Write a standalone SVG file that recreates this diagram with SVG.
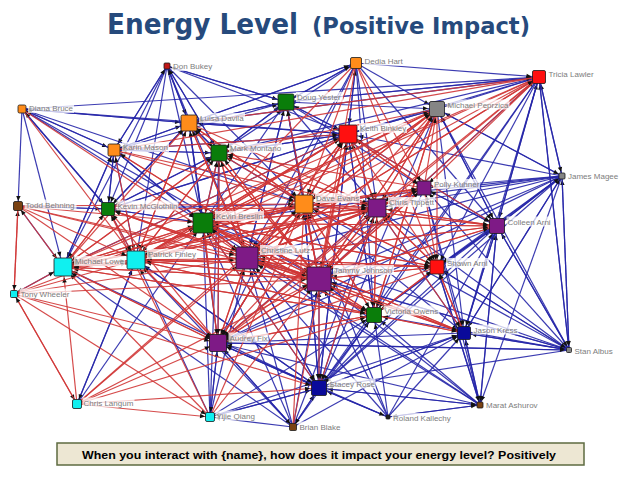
<svg xmlns="http://www.w3.org/2000/svg" width="638" height="479" viewBox="0 0 638 479">
<style>
.b{stroke:#2626a8;stroke-opacity:.9}
.r{stroke:#d03636;stroke-opacity:.9}
.n{stroke:#1a1a1a;stroke-width:.8}
.lb{fill:#fff;fill-opacity:.75}
.lt{font-family:"Liberation Sans",Arial,sans-serif;font-size:8px;fill:#7d7d7d}
.or{fill:#ff8c1a}.gr{fill:#0a7d0a}.rd{fill:#ff1010}.gy{fill:#858585}.pu{fill:#7e1a86}.cy{fill:#10f0f0}.nv{fill:#0a0a9a}.br{fill:#7a4212}.dk{fill:#202020}.dr{fill:#c01818}
</style>
<defs>
<marker id="a4" markerUnits="userSpaceOnUse" viewBox="-20 -3 21 6" markerWidth="21" markerHeight="6" refX="0" refY="0" orient="auto"><path d="M-9,-2.2L-4,0L-9,2.2z" fill="#111"/></marker>
<marker id="a5" markerUnits="userSpaceOnUse" viewBox="-20 -3 21 6" markerWidth="21" markerHeight="6" refX="0" refY="0" orient="auto"><path d="M-10,-2.2L-5,0L-10,2.2z" fill="#111"/></marker>
<marker id="a7" markerUnits="userSpaceOnUse" viewBox="-20 -3 21 6" markerWidth="21" markerHeight="6" refX="0" refY="0" orient="auto"><path d="M-12.5,-2.2L-7.5,0L-12.5,2.2z" fill="#111"/></marker>
<marker id="a9" markerUnits="userSpaceOnUse" viewBox="-20 -3 21 6" markerWidth="21" markerHeight="6" refX="0" refY="0" orient="auto"><path d="M-14,-2.2L-9,0L-14,2.2z" fill="#111"/></marker>
<marker id="a11" markerUnits="userSpaceOnUse" viewBox="-20 -3 21 6" markerWidth="21" markerHeight="6" refX="0" refY="0" orient="auto"><path d="M-15.5,-2.2L-10.5,0L-15.5,2.2z" fill="#111"/></marker>
<marker id="a13" markerUnits="userSpaceOnUse" viewBox="-20 -3 21 6" markerWidth="21" markerHeight="6" refX="0" refY="0" orient="auto"><path d="M-18,-2.2L-13,0L-18,2.2z" fill="#111"/></marker>
</defs>
<rect width="638" height="479" fill="#fff"/>
<text x="107" y="34" font-family="DejaVu Sans,Verdana,sans-serif" font-weight="bold" font-size="28" fill="#264a7c" textLength="191" lengthAdjust="spacingAndGlyphs">Energy Level</text>
<text x="312" y="34" font-family="DejaVu Sans,Verdana,sans-serif" font-weight="bold" font-size="23" fill="#264a7c" textLength="218" lengthAdjust="spacingAndGlyphs">(Positive Impact)</text>
<g id="connectors" fill="none" stroke-width="1.2">
<g class="b" marker-end="url(#a13)">
<path d="M356 63L247 258"/><path d="M562 176L247 258"/><path d="M569 350L247 258"/><path d="M210 417L247 258"/><path d="M293 427L247 258"/><path d="M388 417L247 258"/><path d="M480 405L247 258"/><path d="M319 388L247 258"/><path d="M114 150L247 258"/><path d="M286 102L247 258"/><path d="M167 66L247 258"/>
<path d="M539 77L319 279"/><path d="M22 109L319 279"/><path d="M562 176L319 279"/><path d="M569 350L319 279"/><path d="M293 427L319 279"/><path d="M388 417L319 279"/><path d="M480 405L319 279"/><path d="M319 388L319 279"/><path d="M286 102L319 279"/>
</g>
<g class="b" marker-end="url(#a11)">
<path d="M167 66L203 223"/><path d="M22 109L203 223"/><path d="M562 176L203 223"/><path d="M569 350L203 223"/><path d="M77 404L203 223"/><path d="M210 417L203 223"/><path d="M293 427L203 223"/><path d="M480 405L203 223"/><path d="M319 388L203 223"/><path d="M108 209L203 223"/><path d="M114 150L203 223"/><path d="M219 153L203 223"/><path d="M189 123L203 223"/>
<path d="M167 66L304 204"/><path d="M22 109L304 204"/><path d="M562 176L304 204"/><path d="M569 350L304 204"/><path d="M388 417L304 204"/><path d="M319 388L304 204"/><path d="M108 209L304 204"/><path d="M286 102L304 204"/>
<path d="M167 66L348 134"/><path d="M356 63L348 134"/><path d="M539 77L348 134"/><path d="M562 176L348 134"/><path d="M437 109L348 134"/><path d="M497 226L348 134"/><path d="M374 315L348 134"/><path d="M319 388L348 134"/><path d="M108 209L348 134"/><path d="M219 153L348 134"/><path d="M189 123L348 134"/><path d="M286 102L348 134"/>
<path d="M356 63L377 208"/><path d="M562 176L377 208"/><path d="M569 350L377 208"/><path d="M293 427L377 208"/><path d="M218 343L377 208"/><path d="M319 388L377 208"/><path d="M464 333L377 208"/><path d="M286 102L377 208"/>
<path d="M167 66L63 267"/><path d="M22 109L63 267"/><path d="M18 206L63 267"/><path d="M293 427L63 267"/><path d="M348 134L63 267"/><path d="M114 150L63 267"/>
<path d="M167 66L136 260"/><path d="M77 404L136 260"/><path d="M210 417L136 260"/><path d="M293 427L136 260"/><path d="M319 388L136 260"/><path d="M114 150L136 260"/>
</g>
<g class="b" marker-end="url(#a9)">
<path d="M167 66L286 102"/><path d="M356 63L286 102"/><path d="M539 77L286 102"/><path d="M203 223L286 102"/><path d="M247 258L286 102"/><path d="M304 204L286 102"/><path d="M348 134L286 102"/><path d="M114 150L286 102"/><path d="M219 153L286 102"/><path d="M189 123L286 102"/>
<path d="M356 63L189 123"/><path d="M22 109L189 123"/><path d="M203 223L189 123"/><path d="M348 134L189 123"/><path d="M218 343L189 123"/><path d="M108 209L189 123"/><path d="M114 150L189 123"/><path d="M219 153L189 123"/><path d="M286 102L189 123"/><path d="M167 66L189 123"/>
<path d="M356 63L437 109"/><path d="M539 77L437 109"/><path d="M562 176L437 109"/><path d="M569 350L437 109"/><path d="M497 226L437 109"/><path d="M348 134L437 109"/><path d="M286 102L437 109"/>
<path d="M167 66L219 153"/><path d="M356 63L219 153"/><path d="M539 77L219 153"/><path d="M304 204L219 153"/><path d="M348 134L219 153"/><path d="M218 343L219 153"/><path d="M108 209L219 153"/><path d="M114 150L219 153"/><path d="M189 123L219 153"/><path d="M286 102L219 153"/><path d="M210 417L219 153"/>
<path d="M356 63L497 226"/><path d="M539 77L497 226"/><path d="M562 176L497 226"/><path d="M569 350L497 226"/><path d="M388 417L497 226"/><path d="M480 405L497 226"/><path d="M424 188L497 226"/><path d="M437 267L497 226"/><path d="M464 333L497 226"/><path d="M437 109L497 226"/>
<path d="M356 63L374 315"/><path d="M539 77L374 315"/><path d="M562 176L374 315"/><path d="M569 350L374 315"/><path d="M210 417L374 315"/><path d="M293 427L374 315"/><path d="M388 417L374 315"/><path d="M480 405L374 315"/><path d="M348 134L374 315"/><path d="M424 188L374 315"/><path d="M497 226L374 315"/><path d="M319 388L374 315"/>
<path d="M539 77L319 388"/><path d="M437 109L319 388"/><path d="M562 176L319 388"/><path d="M569 350L319 388"/><path d="M210 417L319 388"/><path d="M293 427L319 388"/><path d="M388 417L319 388"/><path d="M480 405L319 388"/><path d="M304 204L319 388"/><path d="M348 134L319 388"/><path d="M497 226L319 388"/><path d="M437 267L319 388"/><path d="M374 315L319 388"/><path d="M464 333L319 388"/><path d="M218 343L319 388"/><path d="M247 258L319 388"/><path d="M63 267L319 388"/><path d="M136 260L319 388"/>
<path d="M356 63L218 343"/><path d="M562 176L218 343"/><path d="M569 350L218 343"/><path d="M210 417L218 343"/><path d="M293 427L218 343"/><path d="M388 417L218 343"/><path d="M480 405L218 343"/><path d="M348 134L218 343"/><path d="M497 226L218 343"/><path d="M464 333L218 343"/><path d="M319 388L218 343"/>
</g>
<g class="b" marker-end="url(#a7)">
<path d="M189 123L356 63"/><path d="M286 102L356 63"/><path d="M348 134L356 63"/>
<path d="M22 109L114 150"/><path d="M348 134L114 150"/><path d="M108 209L114 150"/><path d="M219 153L114 150"/><path d="M63 267L114 150"/><path d="M189 123L114 150"/><path d="M167 66L114 150"/>
<path d="M22 109L539 77"/><path d="M356 63L539 77"/><path d="M562 176L539 77"/><path d="M569 350L539 77"/><path d="M189 123L539 77"/><path d="M286 102L539 77"/><path d="M497 226L539 77"/>
<path d="M167 66L108 209"/><path d="M22 109L108 209"/><path d="M18 206L108 209"/><path d="M203 223L108 209"/><path d="M348 134L108 209"/><path d="M114 150L108 209"/><path d="M219 153L108 209"/><path d="M189 123L108 209"/><path d="M136 260L108 209"/>
<path d="M539 77L464 333"/><path d="M437 109L464 333"/><path d="M562 176L464 333"/><path d="M569 350L464 333"/><path d="M210 417L464 333"/><path d="M293 427L464 333"/><path d="M388 417L464 333"/><path d="M480 405L464 333"/><path d="M497 226L464 333"/><path d="M319 388L464 333"/><path d="M304 204L464 333"/><path d="M424 188L464 333"/>
<path d="M286 102L424 188"/><path d="M562 176L424 188"/><path d="M569 350L424 188"/><path d="M480 405L424 188"/><path d="M497 226L424 188"/>
<path d="M539 77L437 267"/><path d="M562 176L437 267"/><path d="M569 350L437 267"/><path d="M480 405L437 267"/><path d="M497 226L437 267"/>
</g>
<g class="b" marker-end="url(#a5)">
<path d="M348 134L22 109"/><path d="M189 123L22 109"/><path d="M108 209L22 109"/><path d="M114 150L22 109"/>
<path d="M22 109L18 206"/><path d="M108 209L18 206"/>
<path d="M136 260L77 404"/>
<path d="M218 343L210 417"/><path d="M319 388L210 417"/><path d="M293 427L210 417"/>
</g>
<g class="b" marker-end="url(#a4)">
<path d="M114 150L167 66"/><path d="M219 153L167 66"/><path d="M189 123L167 66"/><path d="M286 102L167 66"/>
<path d="M539 77L562 176"/><path d="M437 109L562 176"/><path d="M497 226L562 176"/><path d="M569 350L562 176"/><path d="M464 333L562 176"/>
<path d="M539 77L569 350"/><path d="M562 176L569 350"/><path d="M497 226L569 350"/><path d="M437 267L569 350"/><path d="M464 333L569 350"/><path d="M218 343L569 350"/>
<path d="M319 388L388 417"/><path d="M480 405L388 417"/>
<path d="M562 176L480 405"/><path d="M497 226L480 405"/><path d="M437 267L480 405"/><path d="M464 333L480 405"/><path d="M388 417L480 405"/><path d="M319 388L480 405"/>
<path d="M63 267L14 294"/>
<path d="M218 343L293 427"/><path d="M319 388L293 427"/>
</g>
<g class="r" marker-end="url(#a13)">
<path d="M539 77L247 258"/><path d="M22 109L247 258"/><path d="M437 109L247 258"/><path d="M18 206L247 258"/><path d="M14 294L247 258"/><path d="M77 404L247 258"/><path d="M203 223L247 258"/><path d="M319 279L247 258"/><path d="M304 204L247 258"/><path d="M348 134L247 258"/><path d="M377 208L247 258"/><path d="M424 188L247 258"/><path d="M497 226L247 258"/><path d="M437 267L247 258"/><path d="M374 315L247 258"/><path d="M464 333L247 258"/><path d="M218 343L247 258"/><path d="M63 267L247 258"/><path d="M136 260L247 258"/><path d="M108 209L247 258"/><path d="M219 153L247 258"/><path d="M189 123L247 258"/>
<path d="M356 63L319 279"/><path d="M437 109L319 279"/><path d="M18 206L319 279"/><path d="M14 294L319 279"/><path d="M77 404L319 279"/><path d="M210 417L319 279"/><path d="M203 223L319 279"/><path d="M247 258L319 279"/><path d="M304 204L319 279"/><path d="M348 134L319 279"/><path d="M377 208L319 279"/><path d="M424 188L319 279"/><path d="M497 226L319 279"/><path d="M437 267L319 279"/><path d="M374 315L319 279"/><path d="M464 333L319 279"/><path d="M218 343L319 279"/><path d="M63 267L319 279"/><path d="M136 260L319 279"/><path d="M108 209L319 279"/><path d="M114 150L319 279"/><path d="M219 153L319 279"/><path d="M189 123L319 279"/>
</g>
<g class="r" marker-end="url(#a11)">
<path d="M356 63L203 223"/><path d="M539 77L203 223"/><path d="M437 109L203 223"/><path d="M18 206L203 223"/><path d="M14 294L203 223"/><path d="M247 258L203 223"/><path d="M319 279L203 223"/><path d="M304 204L203 223"/><path d="M348 134L203 223"/><path d="M377 208L203 223"/><path d="M424 188L203 223"/><path d="M497 226L203 223"/><path d="M437 267L203 223"/><path d="M374 315L203 223"/><path d="M464 333L203 223"/><path d="M218 343L203 223"/><path d="M63 267L203 223"/><path d="M136 260L203 223"/>
<path d="M356 63L304 204"/><path d="M539 77L304 204"/><path d="M437 109L304 204"/><path d="M18 206L304 204"/><path d="M77 404L304 204"/><path d="M210 417L304 204"/><path d="M293 427L304 204"/><path d="M203 223L304 204"/><path d="M247 258L304 204"/><path d="M319 279L304 204"/><path d="M348 134L304 204"/><path d="M377 208L304 204"/><path d="M424 188L304 204"/><path d="M497 226L304 204"/><path d="M437 267L304 204"/><path d="M374 315L304 204"/><path d="M218 343L304 204"/><path d="M63 267L304 204"/><path d="M136 260L304 204"/><path d="M114 150L304 204"/><path d="M219 153L304 204"/><path d="M189 123L304 204"/>
<path d="M293 427L348 134"/><path d="M203 223L348 134"/><path d="M247 258L348 134"/><path d="M319 279L348 134"/><path d="M304 204L348 134"/><path d="M377 208L348 134"/><path d="M424 188L348 134"/><path d="M218 343L348 134"/><path d="M63 267L348 134"/><path d="M136 260L348 134"/><path d="M114 150L348 134"/>
<path d="M539 77L377 208"/><path d="M437 109L377 208"/><path d="M203 223L377 208"/><path d="M247 258L377 208"/><path d="M319 279L377 208"/><path d="M304 204L377 208"/><path d="M348 134L377 208"/><path d="M424 188L377 208"/><path d="M497 226L377 208"/><path d="M437 267L377 208"/><path d="M374 315L377 208"/><path d="M63 267L377 208"/><path d="M136 260L377 208"/><path d="M108 209L377 208"/><path d="M114 150L377 208"/><path d="M219 153L377 208"/><path d="M189 123L377 208"/>
<path d="M437 109L63 267"/><path d="M14 294L63 267"/><path d="M77 404L63 267"/><path d="M210 417L63 267"/><path d="M203 223L63 267"/><path d="M247 258L63 267"/><path d="M319 279L63 267"/><path d="M304 204L63 267"/><path d="M377 208L63 267"/><path d="M374 315L63 267"/><path d="M218 343L63 267"/><path d="M136 260L63 267"/><path d="M108 209L63 267"/><path d="M219 153L63 267"/>
<path d="M539 77L136 260"/><path d="M22 109L136 260"/><path d="M437 109L136 260"/><path d="M18 206L136 260"/><path d="M14 294L136 260"/><path d="M203 223L136 260"/><path d="M247 258L136 260"/><path d="M319 279L136 260"/><path d="M304 204L136 260"/><path d="M348 134L136 260"/><path d="M377 208L136 260"/><path d="M424 188L136 260"/><path d="M437 267L136 260"/><path d="M374 315L136 260"/><path d="M218 343L136 260"/><path d="M63 267L136 260"/><path d="M108 209L136 260"/><path d="M219 153L136 260"/><path d="M189 123L136 260"/>
</g>
<g class="r" marker-end="url(#a9)">
<path d="M319 279L286 102"/>
<path d="M539 77L189 123"/><path d="M247 258L189 123"/><path d="M319 279L189 123"/><path d="M304 204L189 123"/><path d="M63 267L189 123"/><path d="M136 260L189 123"/>
<path d="M203 223L437 109"/><path d="M247 258L437 109"/><path d="M319 279L437 109"/><path d="M377 208L437 109"/><path d="M424 188L437 109"/><path d="M374 315L437 109"/><path d="M304 204L437 109"/>
<path d="M437 109L219 153"/><path d="M203 223L219 153"/><path d="M247 258L219 153"/><path d="M319 279L219 153"/><path d="M377 208L219 153"/><path d="M424 188L219 153"/><path d="M136 260L219 153"/><path d="M63 267L219 153"/>
<path d="M203 223L497 226"/><path d="M247 258L497 226"/><path d="M319 279L497 226"/><path d="M304 204L497 226"/><path d="M348 134L497 226"/><path d="M377 208L497 226"/>
<path d="M437 109L374 315"/><path d="M77 404L374 315"/><path d="M203 223L374 315"/><path d="M247 258L374 315"/><path d="M319 279L374 315"/><path d="M304 204L374 315"/><path d="M377 208L374 315"/><path d="M437 267L374 315"/><path d="M464 333L374 315"/><path d="M218 343L374 315"/><path d="M63 267L374 315"/><path d="M136 260L374 315"/>
<path d="M14 294L319 388"/><path d="M77 404L319 388"/><path d="M203 223L319 388"/><path d="M319 279L319 388"/><path d="M377 208L319 388"/>
<path d="M539 77L218 343"/><path d="M437 109L218 343"/><path d="M18 206L218 343"/><path d="M14 294L218 343"/><path d="M77 404L218 343"/><path d="M203 223L218 343"/><path d="M247 258L218 343"/><path d="M319 279L218 343"/><path d="M304 204L218 343"/><path d="M377 208L218 343"/><path d="M424 188L218 343"/><path d="M437 267L218 343"/><path d="M374 315L218 343"/><path d="M63 267L218 343"/><path d="M136 260L218 343"/><path d="M219 153L218 343"/>
</g>
<g class="r" marker-end="url(#a7)">
<path d="M539 77L114 150"/><path d="M319 279L114 150"/><path d="M136 260L114 150"/>
<path d="M247 258L539 77"/><path d="M319 279L539 77"/>
<path d="M247 258L108 209"/><path d="M319 279L108 209"/><path d="M210 417L108 209"/><path d="M63 267L108 209"/><path d="M218 343L108 209"/>
<path d="M203 223L464 333"/><path d="M247 258L464 333"/><path d="M319 279L464 333"/><path d="M377 208L464 333"/><path d="M437 267L464 333"/><path d="M374 315L464 333"/>
<path d="M356 63L424 188"/><path d="M539 77L424 188"/><path d="M203 223L424 188"/><path d="M247 258L424 188"/><path d="M319 279L424 188"/><path d="M304 204L424 188"/><path d="M348 134L424 188"/><path d="M377 208L424 188"/>
<path d="M356 63L437 267"/><path d="M437 109L437 267"/><path d="M203 223L437 267"/><path d="M247 258L437 267"/><path d="M319 279L437 267"/><path d="M304 204L437 267"/><path d="M348 134L437 267"/><path d="M377 208L437 267"/><path d="M424 188L437 267"/><path d="M374 315L437 267"/><path d="M464 333L437 267"/><path d="M136 260L437 267"/>
</g>
<g class="r" marker-end="url(#a5)">
<path d="M63 267L18 206"/><path d="M14 294L18 206"/>
<path d="M14 294L77 404"/>
<path d="M14 294L210 417"/><path d="M77 404L210 417"/>
</g>
<g class="r" marker-end="url(#a4)">
<path d="M18 206L14 294"/><path d="M77 404L14 294"/>
</g>
</g>
<g id="n-don-bukey"><rect class="n dr" x="164" y="63" width="6" height="6" rx="1"/><rect class="lb" x="172" y="61" width="41" height="10"/><text class="lt" x="173" y="69">Don Bukey</text></g>
<g id="n-dedia-hart"><rect class="n or" x="350.5" y="57.5" width="11" height="11" rx="1.5"/><rect class="lb" x="363.5" y="55.5" width="40" height="10"/><text class="lt" x="364.5" y="63.5">Dedia Hart</text></g>
<g id="n-tricia-lawler"><rect class="n rd" x="532.5" y="70.5" width="13" height="13" rx="1.5"/><rect class="lb" x="547.5" y="68.5" width="47" height="10"/><text class="lt" x="548.5" y="76.5">Tricia Lawler</text></g>
<g id="n-diana-bruce"><rect class="n or" x="18" y="105" width="8" height="8" rx="1.5"/><rect class="lb" x="28" y="103" width="46" height="10"/><text class="lt" x="29" y="111">Diana Bruce</text></g>
<g id="n-doug-yester"><rect class="n gr" x="278" y="94" width="16" height="16" rx="1.5"/><rect class="lb" x="296" y="92" width="47" height="10"/><text class="lt" x="297" y="100">Doug Yester</text></g>
<g id="n-luisa-davila"><rect class="n or" x="181" y="115" width="16" height="16" rx="1.5"/><rect class="lb" x="199" y="113" width="46" height="10"/><text class="lt" x="200" y="121">Luisa Davila</text></g>
<g id="n-michael-peprzica"><rect class="n gy" x="429.5" y="101.5" width="15" height="15" rx="1.5"/><rect class="lb" x="446.5" y="99.5" width="63" height="10"/><text class="lt" x="447.5" y="107.5">Michael Peprzica</text></g>
<g id="n-keith-binkley"><rect class="n rd" x="339" y="125" width="18" height="18" rx="1.5"/><rect class="lb" x="359" y="123" width="48" height="10"/><text class="lt" x="360" y="131">Keith Binkley</text></g>
<g id="n-karin-mason"><rect class="n or" x="108" y="144" width="12" height="12" rx="1.5"/><rect class="lb" x="122" y="142" width="47" height="10"/><text class="lt" x="123" y="150">Karin Mason</text></g>
<g id="n-mark-montano"><rect class="n gr" x="211" y="145" width="16" height="16" rx="1.5"/><rect class="lb" x="229" y="143" width="53" height="10"/><text class="lt" x="230" y="151">Mark Montano</text></g>
<g id="n-james-magee"><rect class="n gy" x="559" y="173" width="6" height="6" rx="1"/><rect class="lb" x="567" y="171" width="52" height="10"/><text class="lt" x="568" y="179">James Magee</text></g>
<g id="n-todd-behning"><rect class="n br" x="13.5" y="201.5" width="9" height="9" rx="1.5"/><rect class="lb" x="24.5" y="199.5" width="52" height="10"/><text class="lt" x="25.5" y="207.5">Todd Behning</text></g>
<g id="n-kevin-mcglothlin"><rect class="n gr" x="101.5" y="202.5" width="13" height="13" rx="1.5"/><rect class="lb" x="116.5" y="200.5" width="62" height="10"/><text class="lt" x="117.5" y="208.5">Kevin McGlothlin</text></g>
<g id="n-kevin-breslin"><rect class="n gr" x="193" y="213" width="20" height="20" rx="1.5"/><rect class="lb" x="215" y="211" width="49" height="10"/><text class="lt" x="216" y="219">Kevin Breslin</text></g>
<g id="n-dave-evans"><rect class="n or" x="295" y="195" width="18" height="18" rx="1.5"/><rect class="lb" x="315" y="193" width="45" height="10"/><text class="lt" x="316" y="201">Dave Evans</text></g>
<g id="n-chris-tippett"><rect class="n pu" x="368" y="199" width="18" height="18" rx="1.5"/><rect class="lb" x="388" y="197" width="47" height="10"/><text class="lt" x="389" y="205">Chris Tippett</text></g>
<g id="n-polly-kuhner"><rect class="n pu" x="417" y="181" width="14" height="14" rx="1.5"/><rect class="lb" x="433" y="179" width="47" height="10"/><text class="lt" x="434" y="187">Polly Kuhner</text></g>
<g id="n-colleen-arni"><rect class="n pu" x="489.5" y="218.5" width="15" height="15" rx="1.5"/><rect class="lb" x="506.5" y="216.5" width="46" height="10"/><text class="lt" x="507.5" y="224.5">Colleen Arni</text></g>
<g id="n-michael-lowe"><rect class="n cy" x="54" y="258" width="18" height="18" rx="1.5"/><rect class="lb" x="74" y="256" width="51" height="10"/><text class="lt" x="75" y="264">Michael Lowe</text></g>
<g id="n-patrick-finley"><rect class="n cy" x="127" y="251" width="18" height="18" rx="1.5"/><rect class="lb" x="147" y="249" width="50" height="10"/><text class="lt" x="148" y="257">Patrick Finley</text></g>
<g id="n-christine-lutz"><rect class="n pu" x="236" y="247" width="22" height="22" rx="1.5"/><rect class="lb" x="260" y="245" width="51" height="10"/><text class="lt" x="261" y="253">Christine Lutz</text></g>
<g id="n-tammy-johnson"><rect class="n pu" x="307" y="267" width="24" height="24" rx="1.5"/><rect class="lb" x="333" y="265" width="61" height="10"/><text class="lt" x="334" y="273">Tammy Johnson</text></g>
<g id="n-shawn-arni"><rect class="n rd" x="430" y="260" width="14" height="14" rx="1.5"/><rect class="lb" x="446" y="258" width="43" height="10"/><text class="lt" x="447" y="266">Shawn Arni</text></g>
<g id="n-tony-wheeler"><rect class="n cy" x="10.5" y="290.5" width="7" height="7" rx="1"/><rect class="lb" x="19.5" y="288.5" width="52" height="10"/><text class="lt" x="20.5" y="296.5">Tony Wheeler</text></g>
<g id="n-victoria-owens"><rect class="n gr" x="366.5" y="307.5" width="15" height="15" rx="1.5"/><rect class="lb" x="383.5" y="305.5" width="56" height="10"/><text class="lt" x="384.5" y="313.5">Victoria Owens</text></g>
<g id="n-jason-kress"><rect class="n nv" x="457.5" y="326.5" width="13" height="13" rx="1.5"/><rect class="lb" x="472.5" y="324.5" width="46" height="10"/><text class="lt" x="473.5" y="332.5">Jason Kress</text></g>
<g id="n-stan-albus"><rect class="n gy" x="566.5" y="347.5" width="5" height="5" rx="1"/><rect class="lb" x="573.5" y="345.5" width="41" height="10"/><text class="lt" x="574.5" y="353.5">Stan Albus</text></g>
<g id="n-audrey-fix"><rect class="n pu" x="209.5" y="334.5" width="17" height="17" rx="1.5"/><rect class="lb" x="228.5" y="332.5" width="40" height="10"/><text class="lt" x="229.5" y="340.5">Audrey Fix</text></g>
<g id="n-stacey-rose"><rect class="n nv" x="311.5" y="380.5" width="15" height="15" rx="1.5"/><rect class="lb" x="328.5" y="378.5" width="47" height="10"/><text class="lt" x="329.5" y="386.5">Stacey Rose</text></g>
<g id="n-marat-ashurov"><rect class="n br" x="477" y="402" width="6" height="6" rx="1"/><rect class="lb" x="485" y="400" width="54" height="10"/><text class="lt" x="486" y="408">Marat Ashurov</text></g>
<g id="n-roland-kallechy"><rect class="n dk" x="386" y="415" width="4" height="4" rx=".8"/><rect class="lb" x="392" y="413" width="60" height="10"/><text class="lt" x="393" y="421">Roland Kallechy</text></g>
<g id="n-chris-langum"><rect class="n cy" x="72.5" y="399.5" width="9" height="9" rx="1.5"/><rect class="lb" x="82.5" y="397.5" width="52" height="10"/><text class="lt" x="83.5" y="405.5">Chris Langum</text></g>
<g id="n-yijie-qiang"><rect class="n cy" x="205.5" y="412.5" width="9" height="9" rx="1.5"/><rect class="lb" x="215.5" y="410.5" width="41" height="10"/><text class="lt" x="216.5" y="418.5">Yijie Qiang</text></g>
<g id="n-brian-blake"><rect class="n br" x="289.5" y="423.5" width="7" height="7" rx="1"/><rect class="lb" x="298.5" y="421.5" width="43" height="10"/><text class="lt" x="299.5" y="429.5">Brian Blake</text></g>
<g id="caption"><rect x="57" y="443" width="527" height="22" fill="#ede7d3" stroke="#5d6b40" stroke-width="1.5"/><text x="319" y="459" text-anchor="middle" font-family="Liberation Sans,Arial,sans-serif" font-weight="bold" font-size="10.5" fill="#000" textLength="474" lengthAdjust="spacingAndGlyphs">When you interact with {name}, how does it impact your energy level? Positively</text></g>
</svg>
